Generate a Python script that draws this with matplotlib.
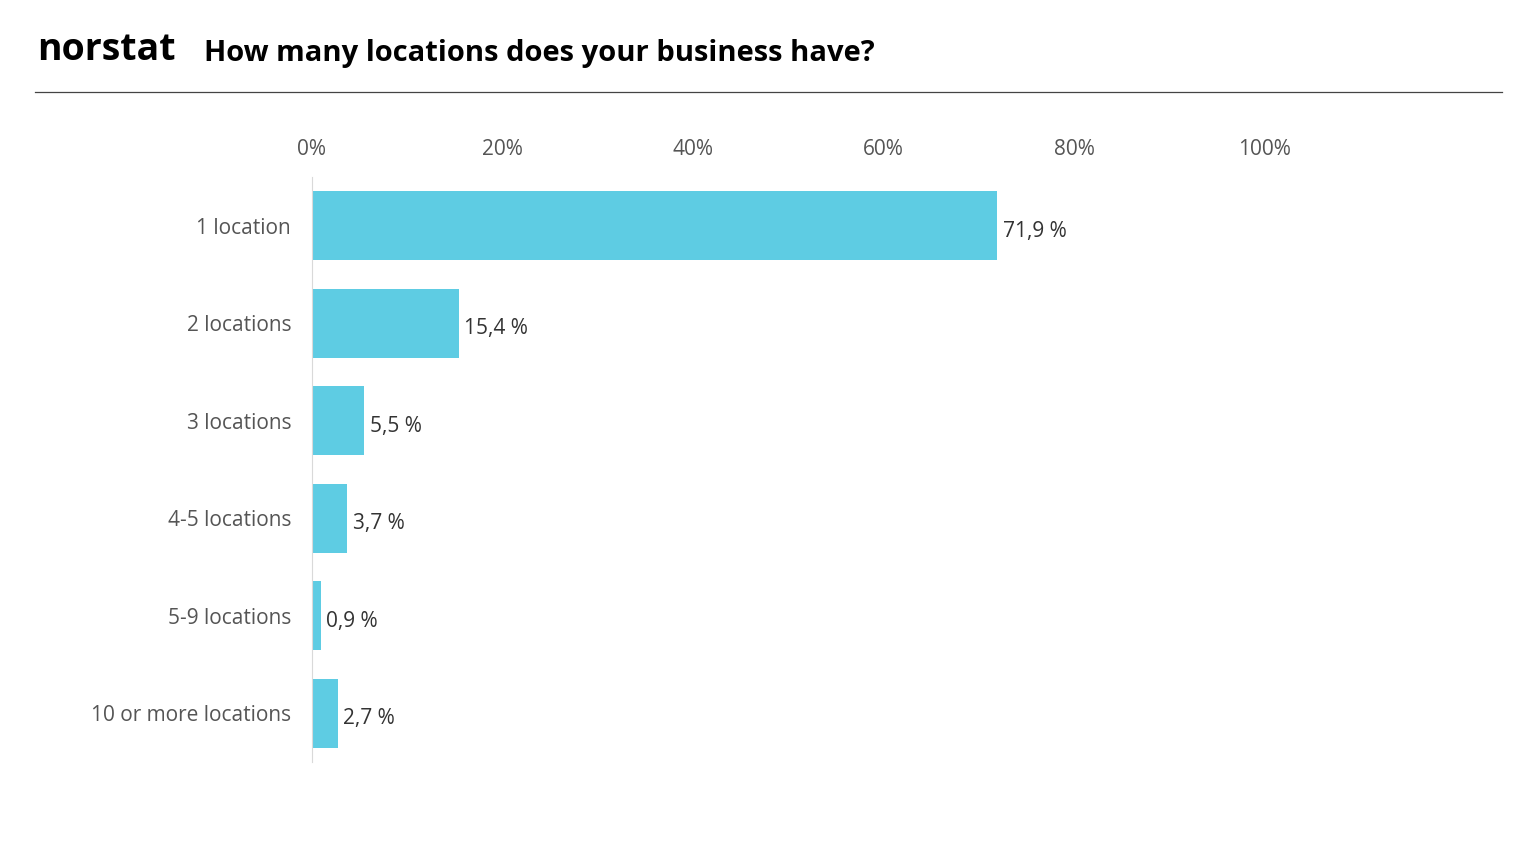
import matplotlib.pyplot as plt
from matplotlib.lines import Line2D

categories = ["1 location", "2 locations", "3 locations", "4-5 locations", "5-9 locations", "10 or more locations"]
values = [71.9, 15.4, 5.5, 3.7, 0.9, 2.7]
ticks = [0, 20, 40, 60, 80, 100]

plt.rcParams['font.family'] = ['Open Sans', 'DejaVu Sans']

fig = plt.figure(figsize=(15.36, 8.61), dpi=100)
ax = fig.add_axes([312/1536, 1-762/861, (1265-312)/1536, (762-177)/861])

y = range(len(categories))
ax.barh(y, values, height=0.71, color='#5ecce3')
for i, v in enumerate(values):
    ax.text(v + 0.6, i + 0.03, f"{v:.1f} %".replace('.', ','), va='center_baseline', ha='left',
            fontsize=15, color='#333333')

ax.set_xlim(0, 100)
ax.set_ylim(5.5, -0.5)
ax.set_yticks(list(y))
ax.set_yticklabels(categories, fontsize=15, color='#555555')
ax.set_xticks(ticks)
ax.set_xticklabels([f"{t}%" for t in ticks], fontsize=15, color='#555555')
ax.xaxis.tick_top()
ax.tick_params(axis='x', length=0, pad=12)
ax.tick_params(axis='y', length=0, pad=15)
for s in ['top', 'right', 'bottom']:
    ax.spines[s].set_visible(False)
ax.spines['left'].set_color('#d9d9d9')

fig.text(37/1536, 1-50/861, "norstat", fontsize=27, fontweight='bold', va='center', ha='left', color='black')
fig.text(204/1536, 1-53/861, "How many locations does your business have?", fontsize=21,
         fontweight='bold', va='center', ha='left', color='black')
fig.add_artist(Line2D([35/1536, 1502/1536], [1-92/861, 1-92/861], color='#444444', lw=0.9))

fig.savefig("out.png", dpi=100)
